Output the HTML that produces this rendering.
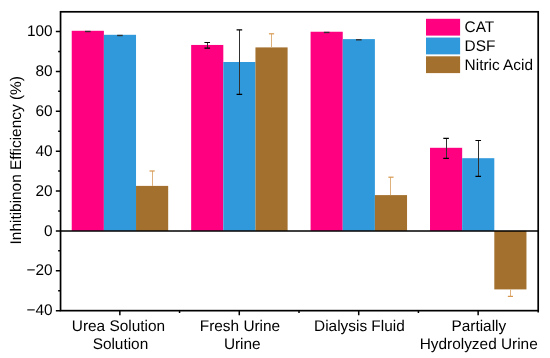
<!DOCTYPE html>
<html><head><meta charset="utf-8"><style>
html,body{margin:0;padding:0;background:#fff;}
body{width:550px;height:358px;overflow:hidden;}
svg{display:block;}
text{font-family:"Liberation Sans",Arial,sans-serif;font-size:15.4px;fill:#000;text-rendering:geometricPrecision;}
</style></head><body>
<svg width="550" height="358" viewBox="0 0 550 358">
<rect width="550" height="358" fill="#fff"/>
<rect x="71.73" y="30.80" width="32.15" height="200.10" fill="#FF0080"/>
<rect x="103.88" y="34.80" width="32.15" height="196.10" fill="#2F99DC"/>
<rect x="136.03" y="185.90" width="32.15" height="45.00" fill="#A3702D"/>
<rect x="191.16" y="44.95" width="32.15" height="185.95" fill="#FF0080"/>
<rect x="223.31" y="62.00" width="32.15" height="168.90" fill="#2F99DC"/>
<rect x="255.45" y="47.40" width="32.15" height="183.50" fill="#A3702D"/>
<rect x="310.59" y="31.75" width="32.15" height="199.15" fill="#FF0080"/>
<rect x="342.74" y="39.10" width="32.15" height="191.80" fill="#2F99DC"/>
<rect x="374.89" y="195.10" width="32.15" height="35.80" fill="#A3702D"/>
<rect x="430.01" y="147.80" width="32.15" height="83.10" fill="#FF0080"/>
<rect x="462.16" y="158.20" width="32.15" height="72.70" fill="#2F99DC"/>
<rect x="494.31" y="230.90" width="32.15" height="58.50" fill="#A3702D"/>
<path d="M85.00 31.50H90.60" stroke="#303030" stroke-width="1.4" fill="none"/>
<path d="M117.15 35.50H122.75" stroke="#303030" stroke-width="1.4" fill="none"/>
<path d="M152.50 171.00V185.90" stroke="#DDB07C" stroke-width="1" fill="none"/>
<path d="M149.50 171.00H154.70" stroke="#D8984E" stroke-width="1.2" fill="none"/>
<path d="M207.50 42.50V48.20" stroke="#303030" stroke-width="1" fill="none"/>
<path d="M204.43 42.50H210.03M204.43 48.20H210.03" stroke="#000" stroke-width="1.2" fill="none"/>
<path d="M239.50 29.90V94.40" stroke="#303030" stroke-width="1" fill="none"/>
<path d="M236.58 29.90H242.18M236.58 94.40H242.18" stroke="#000" stroke-width="1.2" fill="none"/>
<path d="M271.50 33.80V47.40" stroke="#DDB07C" stroke-width="1" fill="none"/>
<path d="M268.93 33.80H274.13" stroke="#D8984E" stroke-width="1.2" fill="none"/>
<path d="M323.86 32.45H329.46" stroke="#303030" stroke-width="1.4" fill="none"/>
<path d="M356.01 39.80H361.61" stroke="#303030" stroke-width="1.4" fill="none"/>
<path d="M390.50 177.20V195.10" stroke="#DDB07C" stroke-width="1" fill="none"/>
<path d="M388.36 177.20H393.56" stroke="#D8984E" stroke-width="1.2" fill="none"/>
<path d="M446.50 138.40V158.30" stroke="#303030" stroke-width="1" fill="none"/>
<path d="M443.29 138.40H448.89M443.29 158.30H448.89" stroke="#000" stroke-width="1.2" fill="none"/>
<path d="M478.50 140.50V176.40" stroke="#303030" stroke-width="1" fill="none"/>
<path d="M475.44 140.50H481.04M475.44 176.40H481.04" stroke="#000" stroke-width="1.2" fill="none"/>
<path d="M510.50 289.40V296.40" stroke="#DDB07C" stroke-width="1" fill="none"/>
<path d="M507.79 296.40H512.99" stroke="#D8984E" stroke-width="1.2" fill="none"/>
<line x1="60.55" y1="230.90" x2="538.20" y2="230.90" stroke="#000" stroke-width="1.5"/>
<rect x="60.55" y="11.80" width="477.65" height="298.86" fill="none" stroke="#000" stroke-width="1.7"/>
<path d="M55.85 310.66H60.55M55.85 270.78H60.55M55.85 230.90H60.55M55.85 191.02H60.55M55.85 151.14H60.55M55.85 111.26H60.55M55.85 71.38H60.55M55.85 31.50H60.55M58.15 290.72H60.55M58.15 250.84H60.55M58.15 210.96H60.55M58.15 171.08H60.55M58.15 131.20H60.55M58.15 91.32H60.55M58.15 51.44H60.55M119.85 310.66V315.36M239.28 310.66V315.36M358.71 310.66V315.36M478.14 310.66V315.36M179.56 310.66V313.06M299.00 310.66V313.06M418.42 310.66V313.06M538.20 310.66V312.46" stroke="#000" stroke-width="1.5" fill="none"/>
<text x="52.6" y="315.26" text-anchor="end">−40</text>
<text x="52.6" y="275.38" text-anchor="end">−20</text>
<text x="52.6" y="235.50" text-anchor="end">0</text>
<text x="52.6" y="195.62" text-anchor="end">20</text>
<text x="52.6" y="155.74" text-anchor="end">40</text>
<text x="52.6" y="115.86" text-anchor="end">60</text>
<text x="52.6" y="75.98" text-anchor="end">80</text>
<text x="52.6" y="36.10" text-anchor="end">100</text>
<text x="120.55" y="330.6" text-anchor="middle">Urea Solution </text>
<text x="120.45" y="349.2" text-anchor="middle">Solution</text>
<text x="239.98" y="330.6" text-anchor="middle">Fresh Urine</text>
<text x="242.28" y="349.2" text-anchor="middle">Urine</text>
<text x="359.41" y="330.6" text-anchor="middle">Dialysis Fluid</text>
<text x="478.84" y="330.6" text-anchor="middle">Partially</text>
<text x="478.74" y="349.2" text-anchor="middle">Hydrolyzed Urine</text>
<rect x="426.0" y="18.80" width="34.1" height="16.8" fill="#FF0080"/>
<text x="464.6" y="32.20">CAT</text>
<rect x="426.0" y="37.55" width="34.1" height="16.8" fill="#2F99DC"/>
<text x="464.6" y="51.20">DSF</text>
<rect x="426.0" y="56.30" width="34.1" height="16.8" fill="#A3702D"/>
<text x="464.6" y="70.20">Nitric Acid</text>
<text transform="translate(20.9 160.3) rotate(-90)" text-anchor="middle">Inhitibinon Efficiency (%)</text>
</svg>
</body></html>
